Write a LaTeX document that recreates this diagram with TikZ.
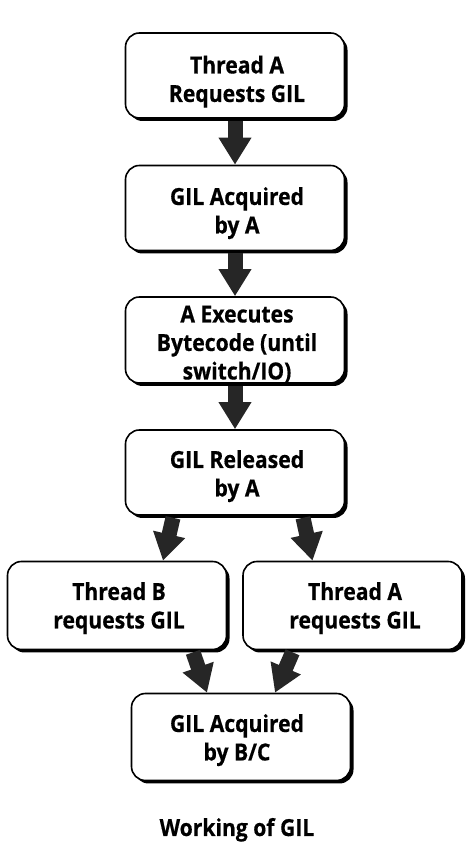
\documentclass[tikz,border=0pt]{standalone}
\usepackage{fontspec}
\setmainfont{Open Sans}
\newfontfamily\boxfont{Open Sans}[FakeStretch=0.9, FakeBold=0.5]
\usetikzlibrary{arrows.meta,shadows}
\definecolor{arrowgray}{HTML}{262626}
\tikzset{
  box/.style={draw=black, line width=1.6pt, rounded corners=14pt, fill=white,
    minimum width=219pt, minimum height=85pt, inner sep=0pt,
    drop shadow={shadow xshift=3pt, shadow yshift=-3pt, fill=black, opacity=1}},
  boxtext/.style={align=center, inner sep=0pt,
    font=\boxfont\fontsize{23.5}{28.5}\selectfont\bfseries},
  flow/.style={draw=arrowgray, line width=15pt,
    -{Triangle[width=31pt,length=27pt]}, arrowgray},
  caption/.style={inner sep=0pt, font=\boxfont\fontsize{23.5}{28}\selectfont\bfseries}
}
\begin{document}
\begin{tikzpicture}[x=1pt,y=1pt]
\useasboundingbox (0,0) rectangle (474,842);
\node[box] (b1) at (235,766.5) {};
\node[box] (b2) at (235,634) {};
\node[box, minimum height=86pt] (b3) at (235,502) {};
\node[box] (b4) at (235,369.5) {};
\node[box, minimum height=88pt] (bl) at (117,236.5) {};
\node[box, minimum height=88pt] (br) at (352.5,236.5) {};
\node[box, minimum height=87pt] (b7) at (241,105) {};

\node[boxtext] (t1) at (237,760.4) {Thread A\\Requests GIL};
\node[boxtext] (t2) at (237,628.9) {GIL Acquired\\by A};
\node[boxtext] (t3) at (237,497.6) {A Executes\\Bytecode (until\\switch/IO)};
\node[boxtext] (t4) at (237,365.9) {GIL Released\\by A};
\node[boxtext] (tl) at (119,233.9) {Thread B\\requests GIL};
\node[boxtext] (tr) at (355,233.9) {Thread A\\requests GIL};
\node[boxtext] (t7) at (237,101.9) {GIL Acquired\\by B/C};
\node[caption, anchor=base] (title) at (237,6) {Working of GIL};

\draw[flow] ([yshift=-2pt]b1.south) -- (b2.north);
\draw[flow] ([yshift=-2pt]b2.south) -- (b3.north);
\draw[flow] ([yshift=-2pt]b3.south) -- (b4.north);
\draw[flow] ([xshift=-62pt,yshift=-2pt]b4.south) -- ([xshift=46pt]bl.north);
\draw[flow] ([xshift=68pt,yshift=-2pt]b4.south) -- ([xshift=-40pt]br.north);
\draw[flow] ([xshift=76pt,yshift=-2pt]bl.south) -- ([xshift=-34pt]b7.north);
\draw[flow] ([xshift=-60pt,yshift=-2pt]br.south) -- ([xshift=34pt]b7.north);
\end{tikzpicture}
\end{document}
